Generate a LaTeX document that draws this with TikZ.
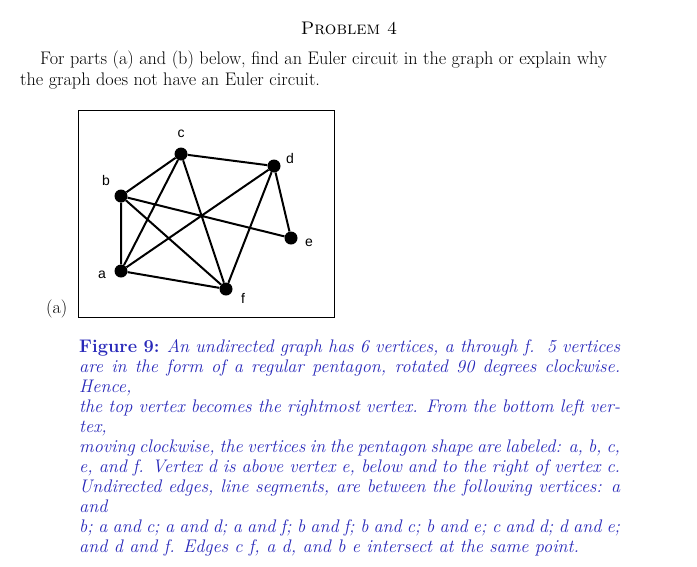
\documentclass[tikz,border=0pt]{standalone}
\usepackage{fontspec}
\newfontfamily\lab{Liberation Sans}
\definecolor{capblue}{RGB}{40,40,185}
\begin{document}
\begin{tikzpicture}[x=1pt,y=-1pt,
  vtx/.style={circle,fill=black,inner sep=0pt,minimum size=13pt},
  vlab/.style={font=\lab\fontsize{14}{14}\selectfont},
  edge/.style={line width=2pt},
  txt/.style={font=\fontsize{18.2}{20}\selectfont,inner sep=0pt,anchor=base west}]
\useasboundingbox (0,0) rectangle (697,566);
\node[font=\fontsize{18.2}{20}\selectfont] (title) at (349,28) {\textsc{Problem 4}};
\node[txt] (l1) at (40,64) {For parts (a) and (b) below, find an Euler circuit in the graph or explain why};
\node[txt] (l2) at (20,85) {the graph does not have an Euler circuit.};
\draw[line width=0.8pt] (78,110) rectangle (334,317);
\node[vtx] (a) at (121,271) {};
\node[vtx] (b) at (121,196) {};
\node[vtx] (c) at (181,154) {};
\node[vtx] (d) at (274,166) {};
\node[vtx] (e) at (291,238) {};
\node[vtx] (f) at (226,289) {};
\node[vlab] (la) at (102,275) {a};
\node[vlab] (lb) at (106,180) {b};
\node[vlab] (lc) at (181,134) {c};
\node[vlab] (ld) at (290,158) {d};
\node[vlab] (le) at (309,243) {e};
\node[vlab] (lf) at (243,298) {f};
\draw[edge] (a)--(b) (a)--(c) (a)--(d) (a)--(f) (b)--(f) (b)--(c) (b)--(e) (c)--(d) (d)--(e) (d)--(f) (c)--(f);
\node[txt] (pa) at (46,313) {(a)};
\node[font=\fontsize{18.2}{20}\selectfont,text=capblue,text width=541pt,align=justify,inner sep=0pt,anchor=north west] (cap) at (79,339)
{\textbf{Figure 9:} \itshape An undirected graph has 6 vertices, a through f.\ \ 5 vertices\linebreak
are in the form of a regular pentagon, rotated 90 degrees clockwise. Hence,\linebreak
the top vertex becomes the rightmost vertex. From the bottom left vertex,\linebreak
moving clockwise, the vertices in the pentagon shape are labeled: a, b, c,\linebreak
e, and f. Vertex d is above vertex e, below and to the right of vertex c.\linebreak
Undirected edges, line segments, are between the following vertices: a and\linebreak
b; a and c; a and d; a and f; b and f; b and c; b and e; c and d; d and e;\linebreak
and d and f. Edges c f, a d, and b e intersect at the same point.};
\end{tikzpicture}
\end{document}
